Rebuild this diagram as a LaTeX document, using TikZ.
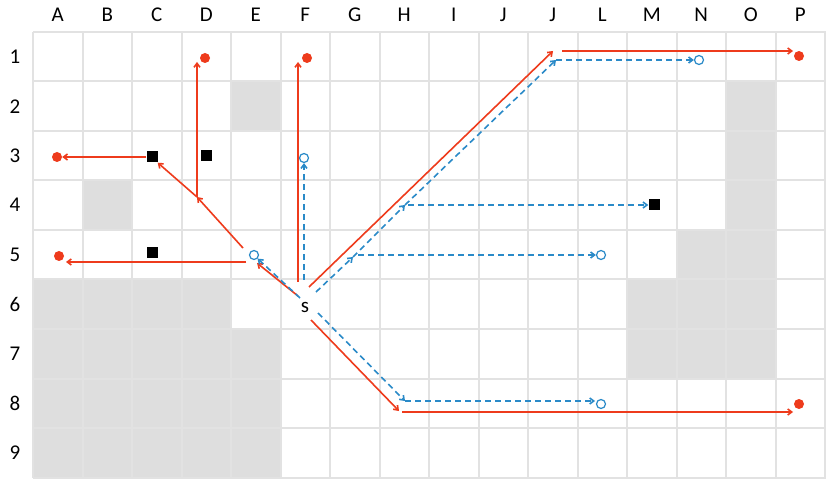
\documentclass[tikz,border=0pt]{standalone}
\usepackage{fontspec}
\setmainfont{Carlito}
\usetikzlibrary{arrows.meta}
\definecolor{rd}{HTML}{EE3B1C}
\definecolor{bl}{HTML}{2A8AC8}
\definecolor{gc}{HTML}{DEDEDE}
\definecolor{gl}{HTML}{E2E2E2}
\begin{document}
\begin{tikzpicture}[x=1pt,y=-1pt,
  rdot/.style={circle,fill=rd,inner sep=0pt,minimum size=10pt},
  bcirc/.style={circle,draw=bl,line width=1.2pt,fill=white,inner sep=0pt,minimum size=9pt},
  sq/.style={fill=black,inner sep=0pt,minimum size=11pt},
  rarr/.style={draw=rd,line width=1.6pt,-{Straight Barb[length=4pt,width=6pt]}},
  barr/.style={draw=bl,line width=1.6pt,dash pattern=on 6pt off 4pt,-{Straight Barb[length=4pt,width=6pt]}},
  lab/.style={font=\fontsize{21}{21}\selectfont}]
\useasboundingbox (0,0) rectangle (828,481);
\fill[white] (0,0) rectangle (828,481);
\def\cw{49.5}
\foreach \c/\r in {4/2, 14/2,14/3,14/4, 1/4, 13/5,14/5, 12/6,13/6,14/6,12/7,13/7,14/7,
  0/6,1/6,2/6,3/6, 0/7,1/7,2/7,3/7,4/7, 0/8,1/8,2/8,3/8,4/8, 0/9,1/9,2/9,3/9,4/9}
  \fill[gc] ({33+\c*\cw},{32+(\r-1)*\cw}) rectangle ++(\cw,\cw);
\foreach \k in {0,...,16} \draw[gl,line width=2pt] ({33+\k*\cw},32) -- ({33+\k*\cw},478);
\foreach \k in {0,...,9} \draw[gl,line width=2pt] (33,{32+\k*\cw}) -- (826,{32+\k*\cw});
\foreach \l [count=\i from 0] in {A,B,C,D,E,F,G,H,I,J,J,L,M,N,O,P}
  \node[lab] (h\i) at ({33+(\i+0.5)*\cw},15) {\l};
\foreach \r in {1,...,9}
  \node[lab] (r\r) at (15,{32+(\r-0.5)*\cw}) {\r};
\node[lab] (s) at (305,307) {s};
\node[rdot] (A3) at (57,157) {};
\node[rdot] (A5) at (59,256) {};
\node[rdot] (D1) at (205,58) {};
\node[rdot] (F1) at (307,58) {};
\node[rdot] (P1) at (799,56) {};
\node[rdot] (P8) at (799,404) {};
\node[bcirc] (F3) at (304,158) {};
\node[bcirc] (E5) at (254,255) {};
\node[bcirc] (L5) at (601,255) {};
\node[bcirc] (N1) at (699,60) {};
\node[bcirc] (L8) at (601,404) {};
\node[sq] (C3) at (152,157) {};
\node[sq] (D3) at (206,156) {};
\node[sq] (C5) at (152,253) {};
\node[sq] (M4) at (654,205) {};
% bend and end coordinates
\coordinate (d4) at (197,197);
\coordinate (j1) at (553,51);
\coordinate (h8) at (399,411);
\coordinate (g5) at (353,257);
\coordinate (h4) at (405,205);
\coordinate (j1b) at (556,60);
\coordinate (h8b) at (405,401);
\coordinate (a5e) at (66,262);
\coordinate (p1e) at (793,51);
\coordinate (p8e) at (793,412);
\coordinate (l8e) at (595,401);
% red paths
\draw[rarr] (298,296) -- (257,263);
\draw[rarr] (246,262) -- (a5e);
\draw[rarr] (243,248) -- (d4);
\draw[rarr] (d4) -- (C3.south east);
\draw[rarr] (d4) -- (197,62);
\draw[rarr] (C3.west) -- (A3.east);
\draw[rarr] (298,282) -- (298,62);
\draw[rarr] (309,287) -- (j1);
\draw[rarr] (562,51) -- (p1e);
\draw[rarr] (311,320) -- (h8);
\draw[rarr] (402,412) -- (p8e);
% blue paths
\draw[barr] (304,280) -- (F3.south);
\draw[barr] (316,292) -- (g5);
\draw[barr] (358,255) -- (L5.west);
\draw[barr] (g5) -- (h4);
\draw[barr] (408,205) -- (M4.west);
\draw[barr] (h4) -- (j1b);
\draw[barr] (j1b) -- (N1.west);
\draw[barr] (318,313) -- (h8b);
\draw[barr] (h8b) -- (l8e);
\draw[barr] (300,298) -- (E5.south east);
\end{tikzpicture}
\end{document}
